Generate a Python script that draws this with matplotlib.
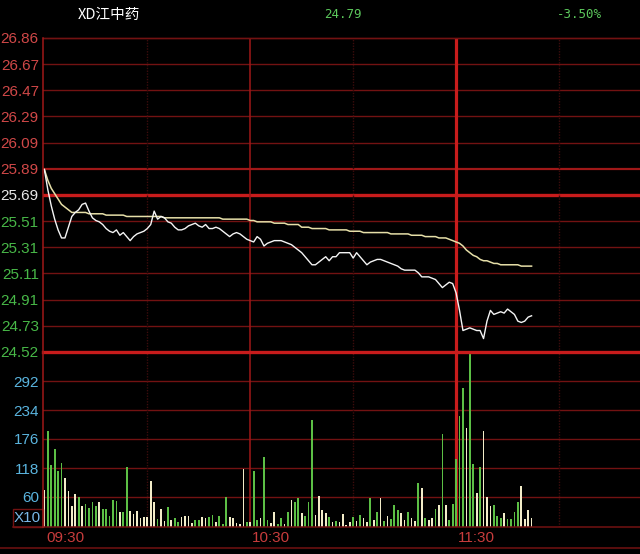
import numpy as np
import matplotlib
matplotlib.use("Agg")
import matplotlib.pyplot as plt
from matplotlib.patches import Rectangle
from matplotlib.lines import Line2D

# --- data (one value per minute from 09:30) ---
price = [25.88, 25.73, 25.61, 25.51, 25.43, 25.37, 25.37, 25.45, 25.53, 25.56,
         25.58, 25.62, 25.63, 25.57, 25.52, 25.50, 25.49, 25.47, 25.44, 25.42,
         25.41, 25.43, 25.39, 25.41, 25.38, 25.35, 25.38, 25.40, 25.41, 25.42,
         25.44, 25.47, 25.57, 25.51, 25.53, 25.52, 25.49, 25.48, 25.45, 25.43,
         25.43, 25.44, 25.46, 25.47, 25.48, 25.46, 25.45, 25.47, 25.44, 25.44,
         25.45, 25.44, 25.42, 25.40, 25.38, 25.40, 25.41, 25.40, 25.38, 25.36,
         25.35, 25.34, 25.38, 25.36, 25.31, 25.33, 25.34, 25.35, 25.35, 25.35,
         25.34, 25.33, 25.32, 25.30, 25.28, 25.26, 25.23, 25.20, 25.17, 25.17,
         25.19, 25.21, 25.23, 25.20, 25.23, 25.23, 25.26, 25.26, 25.26, 25.26,
         25.22, 25.26, 25.23, 25.20, 25.17, 25.19, 25.20, 25.21, 25.21, 25.20,
         25.19, 25.18, 25.17, 25.16, 25.14, 25.13, 25.13, 25.13, 25.13, 25.11,
         25.08, 25.08, 25.08, 25.07, 25.06, 25.03, 25.00, 25.02, 25.04, 25.03,
         24.96, 24.83, 24.68, 24.69, 24.70, 24.69, 24.68, 24.68, 24.62, 24.75,
         24.83, 24.80, 24.81, 24.82, 24.81, 24.84, 24.82, 24.80, 24.75, 24.74,
         24.75, 24.78, 24.79]

avg_price = [25.88, 25.80, 25.74, 25.70, 25.66, 25.62, 25.60, 25.58, 25.56, 25.56,
             25.56, 25.56, 25.56, 25.55, 25.55, 25.55, 25.55, 25.55, 25.54, 25.54,
             25.54, 25.54, 25.54, 25.54, 25.53, 25.53, 25.53, 25.53, 25.53, 25.53,
             25.53, 25.53, 25.53, 25.53, 25.53, 25.52, 25.52, 25.52, 25.52, 25.52,
             25.52, 25.52, 25.52, 25.52, 25.52, 25.52, 25.52, 25.52, 25.52, 25.52,
             25.52, 25.52, 25.51, 25.51, 25.51, 25.51, 25.51, 25.51, 25.51, 25.51,
             25.50, 25.50, 25.49, 25.49, 25.49, 25.49, 25.49, 25.48, 25.48, 25.48,
             25.48, 25.47, 25.47, 25.47, 25.47, 25.45, 25.45, 25.45, 25.44, 25.44,
             25.44, 25.44, 25.44, 25.43, 25.43, 25.43, 25.43, 25.43, 25.43, 25.42,
             25.42, 25.42, 25.42, 25.41, 25.41, 25.41, 25.41, 25.41, 25.41, 25.41,
             25.41, 25.40, 25.40, 25.40, 25.40, 25.40, 25.40, 25.39, 25.39, 25.39,
             25.39, 25.38, 25.38, 25.38, 25.38, 25.37, 25.37, 25.37, 25.36, 25.35,
             25.34, 25.33, 25.31, 25.28, 25.26, 25.24, 25.23, 25.21, 25.20, 25.20,
             25.19, 25.18, 25.18, 25.17, 25.17, 25.17, 25.17, 25.17, 25.17, 25.16,
             25.16, 25.16, 25.16]

volume = [75, 193, 125, 156, 113, 129, 98, 73, 43, 67,
          60, 43, 46, 38, 51, 43, 50, 37, 37, 23,
          55, 52, 30, 30, 120, 33, 26, 33, 19, 21,
          20, 93, 51, 17, 37, 13, 41, 15, 18, 11,
          21, 22, 23, 8, 15, 15, 21, 19, 21, 25,
          11, 23, 7, 60, 21, 19, 8, 7, 117, 10,
          11, 113, 15, 19, 141, 15, 9, 31, 7, 18,
          7, 30, 55, 51, 58, 29, 23, 51, 214, 25,
          63, 35, 28, 20, 11, 13, 11, 27, 5, 11,
          20, 12, 25, 18, 10, 58, 14, 30, 58, 12,
          22, 16, 44, 35, 29, 15, 31, 19, 13, 88,
          78, 19, 15, 18, 37, 45, 186, 45, 15, 47,
          136, 223, 278, 198, 349, 126, 69, 120, 193, 60,
          43, 45, 23, 19, 29, 17, 17, 31, 50, 83,
          17, 35, 19]

# W = up tick (white/cream bar), G = down tick (green bar)
tick_dir = ("WGGGGGWWWW" "GWGGGGWGGG" "GGWGGWWWWW" "WWWGWWGWGG"
            "WWWWGGWWGG" "WGGGWWWWWG" "WGGWGGWWGG" "WGWGGWGGGW"
            "WWWGWGWWWW" "GWGWWGWGWG" "WGGGWWGWWG" "WGWWGWGWGG"
            "GGGWGGWGWW" "WGGGWGGGGW" "WWW")

price_labels = ['24.52', '24.73', '24.91', '25.11', '25.31', '25.51', '25.69',
                '25.89', '26.09', '26.29', '26.47', '26.67', '26.86']
vol_ticks = [60, 118, 176, 234, 292]
time_labels = ['09:30', '10:30', '11:30']
time_pos = [0, 60, 120]

stock_name = 'XD江中药'
last_price = '24.79'
change_pct = '-3.50%'

# --- layout in pixels ---
W, H = 640, 554
fig = plt.figure(figsize=(W / 100, H / 100), dpi=100, facecolor='black')


def fx(px):
    return px / W


def fy(py):
    return 1 - py / H


left, right = 43, 640
top_p, mid, bot_v = 38, 352, 527

ax_p = fig.add_axes([fx(left), fy(mid), fx(right - left), fy(top_p) - fy(mid)])
ax_v = fig.add_axes([fx(left), fy(bot_v), fx(right - left), fy(mid) - fy(bot_v)],
                    sharex=ax_p)

grid_dark = '#721212'
grid_mid = '#a01818'
grid_bright = '#c81c1c'
up_col = '#f2ecc8'
down_col = '#5cbf45'

minutes = np.arange(len(price))
xmax = 174

for ax in (ax_p, ax_v):
    ax.set_facecolor('black')
    for s in ax.spines.values():
        s.set_visible(False)
    ax.tick_params(axis='x', bottom=False, labelbottom=False)
    ax.tick_params(axis='y', length=0, pad=3)
ax_p.set_xlim(-0.4, xmax - 0.4)

# price panel
ax_p.set_ylim(24.52, 26.86)
ticks = np.linspace(24.52, 26.86, 13)
ax_p.set_yticks(ticks)
ax_p.set_yticklabels(price_labels, family='Liberation Sans', fontsize=11)
for i, (lab, t) in enumerate(zip(ax_p.get_yticklabels(), ticks)):
    if i > 6:
        lab.set_color('#d04848')
    elif i == 6:
        lab.set_color('#e8e8e8')
    else:
        lab.set_color('#48b848')
    if i == 6:
        ax_p.axhline(t, color=grid_bright, lw=2.4, zorder=1)
    elif i == 7:
        ax_p.axhline(t, color=grid_mid, lw=1.6, zorder=1)
    elif i != 0:
        ax_p.axhline(t, color=grid_dark, lw=1.0, zorder=1, clip_on=False)

ax_p.plot(minutes, avg_price, color='#e6dfa8', lw=1.1, zorder=3)
ax_p.plot(minutes, price, color='#f4f4f4', lw=1.0, zorder=4)

# volume panel
ax_v.set_ylim(0, 350)
ax_v.set_yticks(vol_ticks)
ax_v.set_yticklabels([str(v) for v in vol_ticks], family='Liberation Sans',
                     fontsize=11, color='#5ab4de')
for v in vol_ticks:
    ax_v.axhline(v, color=grid_dark, lw=1.0, zorder=1)
bar_cols = [up_col if c == 'W' else down_col for c in tick_dir]
ax_v.bar(minutes, volume, width=0.5, color=bar_cols, zorder=3)

# vertical time lines
for ax in (ax_p, ax_v):
    for m in (30, 90, 150):
        ax.axvline(m, color='#3c0c0c', lw=1.0, ls=(0, (1, 1)), zorder=1)
    ax.axvline(60, color=grid_mid, lw=1.1, zorder=2)
    ax.axvline(120, color=grid_bright, lw=2.3, zorder=2)

for lab, m in zip(time_labels, time_pos):
    ax_v.text(m + 0.6, (bot_v - 538) / (bot_v - mid), lab, transform=ax_v.get_xaxis_transform(),
              ha='left', va='center', color='#c83c3c', fontsize=11, family='Liberation Sans')

# frame lines drawn in figure pixels
def hline(py, x0, x1, color, lw):
    fig.add_artist(Line2D([fx(x0), fx(x1)], [fy(py), fy(py)], color=color, lw=lw))


hline(top_p, left, right, grid_dark, 1.0)
hline(mid, left, right, grid_bright, 2.4)
hline(bot_v, 13, right, grid_dark, 1.1)
hline(548, 0, right, grid_dark, 1.1)
fig.add_artist(Line2D([fx(left), fx(left)], [fy(top_p), fy(bot_v)], color=grid_mid, lw=1.1))
fig.add_artist(Rectangle((fx(13), fy(527)), fx(30), fy(509) - fy(527), fill=False,
                         edgecolor=grid_dark, lw=1.0))
fig.text(fx(27), fy(518), 'X10', ha='center', va='center', color='#7ab8e8',
         fontsize=11, family='Liberation Sans')

# header
fig.text(fx(78), fy(15), stock_name, ha='left', va='center', color='white',
         fontsize=10.5, family=['Noto Sans CJK SC', 'DejaVu Sans'])
fig.text(fx(324), fy(15), last_price, ha='left', va='center', color='#5cc85c',
         fontsize=9, family='DejaVu Sans Mono')
fig.text(fx(557), fy(15), change_pct, ha='left', va='center', color='#5cc85c',
         fontsize=9, family='DejaVu Sans Mono')

fig.savefig('out.png', dpi=100, facecolor='black')
